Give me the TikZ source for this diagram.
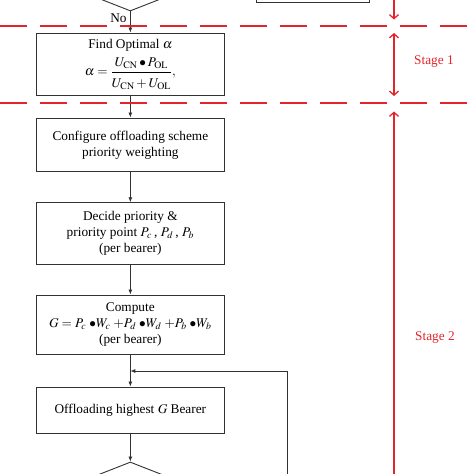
\documentclass[tikz,border=0pt]{standalone}
\usepackage{mathptmx}
\usepackage[no-math]{fontspec}
\setmainfont{Liberation Serif}
\usetikzlibrary{arrows.meta,shapes.geometric}
\definecolor{stagered}{RGB}{228,36,44}
\definecolor{linegray}{RGB}{50,50,50}
\tikzset{redbarb/.tip={Straight Barb[length=4pt,width=9pt]}}
\begin{document}
\begin{tikzpicture}[x=1pt,y=-1pt,
  font=\fontsize{13.3}{16}\selectfont,
  box/.style={draw=linegray, line width=0.9pt, minimum width=187.3pt, align=center, inner sep=0pt},
  dia/.style={draw=linegray, line width=0.9pt, diamond, minimum width=140pt, minimum height=55pt, inner sep=0pt},
  flow/.style={-{Latex[length=5pt,width=4pt]}, line width=0.8pt, draw=linegray},
  redline/.style={draw=stagered, line width=1.6pt, dash pattern=on 27pt off 13pt},
  redarrow/.style={draw=stagered, line width=1.3pt},
  stagetext/.style={text=stagered}]
\useasboundingbox (0,0) rectangle (474,474);
\clip (0,0) rectangle (474,474);

% top partial shapes
\node[dia] (d1) at (130.35,-16.5) {};
\node[box, minimum width=113pt, minimum height=40pt, anchor=south] (tb) at (312.5,3) {};

% boxes
\node[box, minimum height=62.7pt] (b1) at (130.35,64.35)
  {Find Optimal $\alpha$\\[3pt]
   $\displaystyle \alpha=\frac{\rule{0pt}{11pt}U_{\mathrm{CN}}\bullet P_{\mathrm{OL}}}{\rule{0pt}{13pt}U_{\mathrm{CN}}+U_{\mathrm{OL}}},$};
\node[box, minimum height=53.7pt] (b2) at (130.35,144.85)
  {Configure offloading scheme\\priority weighting};
\node[box, minimum height=61.3pt] (b3) at (130.35,233.35)
  {Decide priority \&\\priority point $P_c$\,, $P_d$\,, $P_b$\\(per bearer)};
\node[box, minimum height=59.3pt] (b4) at (130.35,324.65)
  {Compute\\$G=P_c\;{\bullet}W_c\;{+}P_d\;{\bullet}W_d\;{+}P_b\;{\bullet}W_b$\\(per bearer)};
\node[box, minimum height=46.3pt] (b5) at (130.35,410.15)
  {Offloading highest $G$ Bearer};
\node[dia] (d2) at (130.35,489.5) {};

% black connectors
\draw[flow] (d1.south) -- (b1.north);
\node (no) at (118.5,18) {No};
\draw[flow] (b1.south) -- (b2.north);
\draw[flow] (b2.south) -- (b3.north);
\draw[flow] (b3.south) -- (b4.north);
\draw[flow] (b4.south) -- (b5.north);
\draw[flow] (b5.south) -- (d2.north);
\coordinate (loopbot) at (287.3,490);
\coordinate (join) at (130.35,371);
\draw[flow] (loopbot) |- (join);

% red stage markers
\draw[redline] (0,25.7) -- (474,25.7);
\draw[redline] (0,102.7) -- (474,102.7);
\coordinate (t0) at (394,-5);
\coordinate (t1) at (394,19.5);
\draw[redarrow, -{redbarb}] (t0) -- (t1);
\coordinate (s1a) at (394,33);
\coordinate (s1b) at (394,96);
\draw[redarrow, {redbarb}-{redbarb}] (s1a) -- (s1b);
\node[stagetext] (st1) at (434,62) {Stage 1};
\coordinate (s2a) at (394,490);
\coordinate (s2b) at (394,111.5);
\draw[redarrow, -{redbarb}] (s2a) -- (s2b);
\node[stagetext] (st2) at (435,338) {Stage 2};
\end{tikzpicture}
\end{document}
